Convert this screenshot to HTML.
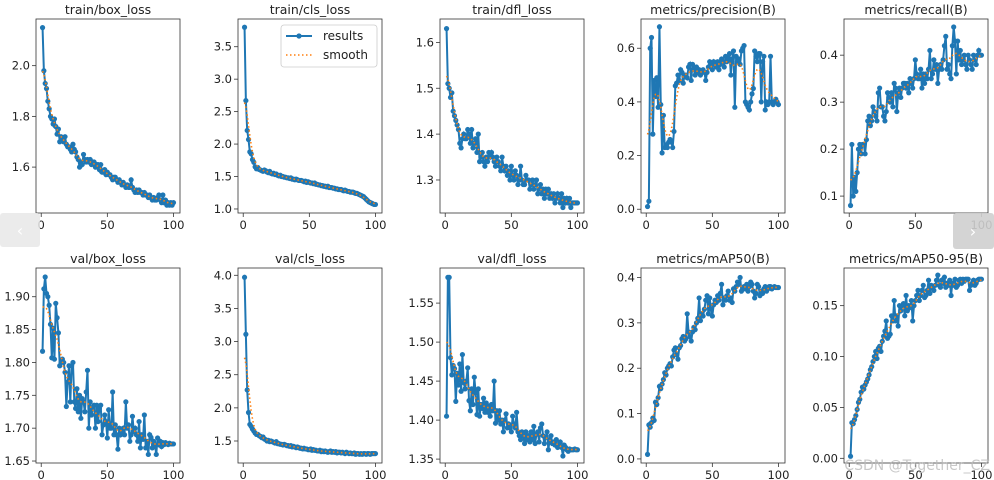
<!DOCTYPE html>
<html><head><meta charset="utf-8"><style>
html,body{margin:0;padding:0;background:#fff;width:994px;height:480px;overflow:hidden}
svg{display:block;font-family:"DejaVu Sans","Liberation Sans",sans-serif}
</style></head><body>
<svg id="chart" width="994" height="480" viewBox="0 0 994 480"></svg>
<script>
const epochs = Array.from({length:100},(_,i)=>i+1);
const xTicks = [0,50,100];
const titles = ["train/box_loss","train/cls_loss","train/dfl_loss","metrics/precision(B)","metrics/recall(B)","val/box_loss","val/cls_loss","val/dfl_loss","metrics/mAP50(B)","metrics/mAP50-95(B)"];
const trainBox = [2.15,1.98,1.93,1.91,1.86,1.83,1.80,1.79,1.77,1.79,1.76,1.73,1.75,1.70,1.72,1.71,1.70,1.72,1.69,1.68,1.68,1.67,1.66,1.69,1.67,1.66,1.64,1.63,1.60,1.62,1.61,1.65,1.63,1.62,1.63,1.62,1.63,1.61,1.62,1.62,1.60,1.61,1.61,1.59,1.61,1.58,1.58,1.59,1.57,1.58,1.57,1.57,1.56,1.55,1.56,1.56,1.55,1.54,1.55,1.54,1.53,1.54,1.53,1.52,1.53,1.52,1.52,1.55,1.52,1.51,1.50,1.51,1.50,1.51,1.50,1.50,1.49,1.50,1.49,1.49,1.48,1.49,1.48,1.47,1.48,1.47,1.47,1.48,1.49,1.47,1.46,1.49,1.46,1.47,1.45,1.46,1.45,1.46,1.45,1.46];
const trainCls = [3.80,2.67,2.21,2.07,1.88,1.85,1.76,1.72,1.65,1.62,1.64,1.61,1.60,1.59,1.58,1.60,1.59,1.57,1.56,1.58,1.55,1.54,1.55,1.53,1.54,1.52,1.51,1.52,1.50,1.50,1.49,1.49,1.48,1.48,1.47,1.48,1.46,1.46,1.45,1.46,1.45,1.44,1.44,1.44,1.43,1.42,1.43,1.41,1.42,1.41,1.40,1.40,1.39,1.40,1.38,1.38,1.37,1.37,1.36,1.36,1.35,1.35,1.34,1.35,1.33,1.33,1.33,1.32,1.32,1.31,1.31,1.30,1.30,1.30,1.29,1.28,1.29,1.28,1.27,1.27,1.26,1.26,1.26,1.25,1.24,1.24,1.23,1.22,1.21,1.20,1.19,1.17,1.15,1.13,1.11,1.10,1.09,1.08,1.07,1.07];
const trainDfl = [1.63,1.51,1.50,1.48,1.49,1.45,1.44,1.43,1.42,1.41,1.38,1.37,1.39,1.40,1.39,1.39,1.41,1.40,1.38,1.41,1.37,1.38,1.39,1.36,1.40,1.34,1.35,1.36,1.34,1.33,1.35,1.34,1.36,1.35,1.36,1.35,1.34,1.33,1.35,1.34,1.33,1.32,1.35,1.33,1.32,1.33,1.31,1.32,1.30,1.33,1.31,1.30,1.32,1.31,1.29,1.30,1.33,1.30,1.29,1.29,1.31,1.30,1.30,1.28,1.29,1.30,1.28,1.29,1.30,1.27,1.28,1.29,1.27,1.28,1.26,1.28,1.27,1.28,1.26,1.27,1.26,1.27,1.25,1.26,1.27,1.26,1.25,1.27,1.24,1.26,1.25,1.26,1.25,1.26,1.24,1.25,1.25,1.25,1.25,1.25];
const precision = [0.01,0.03,0.60,0.64,0.28,0.48,0.42,0.49,0.38,0.68,0.39,0.21,0.35,0.23,0.24,0.23,0.25,0.26,0.25,0.23,0.29,0.46,0.47,0.50,0.48,0.52,0.51,0.47,0.50,0.50,0.49,0.53,0.54,0.48,0.54,0.52,0.50,0.53,0.51,0.52,0.50,0.51,0.52,0.51,0.48,0.51,0.53,0.55,0.54,0.52,0.55,0.54,0.53,0.55,0.52,0.54,0.56,0.55,0.53,0.57,0.55,0.56,0.58,0.50,0.56,0.59,0.38,0.57,0.55,0.56,0.54,0.59,0.60,0.61,0.40,0.39,0.38,0.37,0.40,0.43,0.45,0.59,0.57,0.55,0.58,0.58,0.40,0.55,0.57,0.37,0.40,0.39,0.40,0.57,0.40,0.39,0.40,0.41,0.40,0.39];
const recall = [0.08,0.21,0.10,0.14,0.11,0.15,0.20,0.21,0.19,0.21,0.21,0.19,0.22,0.26,0.27,0.25,0.26,0.29,0.28,0.27,0.26,0.32,0.33,0.29,0.29,0.27,0.26,0.28,0.32,0.31,0.30,0.32,0.29,0.34,0.33,0.28,0.32,0.33,0.31,0.33,0.34,0.34,0.33,0.34,0.32,0.35,0.34,0.33,0.35,0.39,0.36,0.35,0.35,0.37,0.33,0.36,0.34,0.36,0.35,0.37,0.41,0.35,0.36,0.39,0.37,0.38,0.34,0.37,0.38,0.37,0.39,0.42,0.44,0.37,0.38,0.36,0.35,0.42,0.46,0.43,0.36,0.43,0.39,0.41,0.38,0.39,0.40,0.38,0.37,0.40,0.39,0.38,0.37,0.40,0.39,0.38,0.40,0.41,0.40,0.40];
const valBox = [1.817,1.912,1.930,1.905,1.900,1.887,1.858,1.807,1.852,1.805,1.890,1.868,1.845,1.795,1.800,1.805,1.800,1.785,1.733,1.770,1.795,1.740,1.795,1.800,1.740,1.730,1.760,1.725,1.750,1.715,1.745,1.740,1.725,1.755,1.788,1.700,1.740,1.720,1.730,1.735,1.700,1.735,1.710,1.730,1.735,1.690,1.705,1.720,1.710,1.685,1.728,1.700,1.700,1.755,1.690,1.705,1.690,1.668,1.700,1.690,1.695,1.700,1.690,1.740,1.700,1.705,1.680,1.690,1.718,1.695,1.700,1.690,1.680,1.710,1.670,1.690,1.683,1.720,1.670,1.680,1.660,1.690,1.686,1.670,1.680,1.675,1.660,1.685,1.675,1.680,1.672,1.678,1.675,1.678,1.676,1.675,1.677,1.676,1.676,1.676];
const valCls = [3.97,3.11,2.27,1.93,1.75,1.72,1.68,1.65,1.62,1.60,1.60,1.58,1.57,1.55,1.56,1.53,1.52,1.50,1.51,1.49,1.50,1.49,1.48,1.47,1.49,1.46,1.46,1.45,1.45,1.44,1.45,1.44,1.43,1.43,1.42,1.43,1.41,1.42,1.41,1.40,1.41,1.40,1.39,1.39,1.38,1.39,1.38,1.38,1.37,1.37,1.38,1.36,1.37,1.36,1.36,1.35,1.35,1.36,1.34,1.35,1.34,1.35,1.34,1.33,1.34,1.35,1.33,1.34,1.33,1.34,1.32,1.33,1.33,1.32,1.33,1.32,1.31,1.33,1.32,1.31,1.32,1.31,1.31,1.32,1.30,1.31,1.31,1.30,1.31,1.30,1.31,1.31,1.30,1.31,1.31,1.30,1.31,1.31,1.31,1.31];
const valDfl = [1.405,1.583,1.583,1.480,1.458,1.470,1.466,1.424,1.460,1.445,1.472,1.437,1.484,1.448,1.440,1.450,1.467,1.425,1.412,1.440,1.420,1.455,1.435,1.407,1.440,1.405,1.420,1.415,1.428,1.410,1.422,1.410,1.418,1.405,1.420,1.412,1.450,1.396,1.412,1.400,1.412,1.395,1.400,1.385,1.400,1.408,1.390,1.395,1.390,1.385,1.405,1.395,1.390,1.410,1.385,1.380,1.375,1.385,1.380,1.370,1.385,1.375,1.380,1.372,1.385,1.375,1.392,1.370,1.382,1.385,1.372,1.390,1.395,1.380,1.370,1.378,1.385,1.362,1.375,1.380,1.370,1.372,1.368,1.375,1.365,1.368,1.372,1.365,1.354,1.368,1.365,1.362,1.360,1.363,1.362,1.362,1.362,1.363,1.362,1.362];
const mAP50 = [0.01,0.075,0.07,0.08,0.09,0.085,0.125,0.12,0.135,0.16,0.155,0.165,0.175,0.19,0.185,0.20,0.205,0.21,0.205,0.225,0.24,0.245,0.23,0.22,0.245,0.25,0.265,0.27,0.26,0.265,0.32,0.28,0.27,0.26,0.28,0.29,0.285,0.30,0.31,0.355,0.305,0.32,0.315,0.33,0.35,0.36,0.32,0.355,0.33,0.315,0.34,0.35,0.345,0.36,0.35,0.365,0.385,0.34,0.355,0.35,0.36,0.37,0.35,0.355,0.345,0.375,0.37,0.38,0.39,0.385,0.40,0.37,0.375,0.38,0.375,0.385,0.37,0.38,0.39,0.385,0.37,0.355,0.365,0.385,0.38,0.36,0.37,0.365,0.375,0.38,0.37,0.375,0.38,0.38,0.375,0.378,0.38,0.378,0.378,0.378];
const mAP5095 = [0.002,0.035,0.034,0.038,0.042,0.048,0.055,0.058,0.065,0.07,0.068,0.072,0.075,0.078,0.082,0.087,0.09,0.095,0.10,0.105,0.098,0.108,0.11,0.105,0.115,0.12,0.125,0.135,0.118,0.12,0.122,0.14,0.135,0.155,0.135,0.14,0.13,0.15,0.145,0.15,0.152,0.14,0.16,0.145,0.15,0.148,0.155,0.135,0.15,0.155,0.16,0.165,0.155,0.16,0.165,0.17,0.158,0.16,0.165,0.175,0.162,0.17,0.168,0.165,0.17,0.175,0.18,0.17,0.168,0.175,0.172,0.178,0.168,0.172,0.17,0.175,0.16,0.172,0.17,0.176,0.168,0.17,0.175,0.176,0.172,0.176,0.174,0.176,0.176,0.176,0.165,0.17,0.172,0.175,0.17,0.172,0.175,0.176,0.176,0.176];
const yTicks = [[1.6,1.8,2.0],[1.0,1.5,2.0,2.5,3.0,3.5],[1.3,1.4,1.5,1.6],[0.0,0.2,0.4,0.6],[0.1,0.2,0.3,0.4],[1.65,1.70,1.75,1.80,1.85,1.90],[1.5,2.0,2.5,3.0,3.5,4.0],[1.35,1.40,1.45,1.50,1.55],[0.0,0.1,0.2,0.3,0.4],[0.00,0.05,0.10,0.15]];
const yDecimals = [1,1,1,1,1,2,1,2,1,2];
const yDomains = [[1.419,2.184],[0.938,3.927],[1.228,1.651],[-0.014,0.709],[0.064,0.477],[1.647,1.9437],[1.168,4.11],[1.345,1.595],[-0.009,0.421],[-0.0046,0.187]];
const series = [trainBox,trainCls,trainDfl,precision,recall,valBox,valCls,valDfl,mAP50,mAP5095];

const NS="http://www.w3.org/2000/svg";
const svg=document.getElementById('chart');
function mk(tag,attrs,parent){const e=document.createElementNS(NS,tag);for(const k in attrs)e.setAttribute(k,attrs[k]);(parent||svg).appendChild(e);return e;}
function smooth(y,sigma){const r=Math.ceil(sigma*4),n=y.length,out=[];for(let i=0;i<n;i++){let s=0,w=0;for(let k=-r;k<=r;k++){let j=i+k;if(j<0)j=-j-1;if(j>=n)j=2*n-j-1;j=Math.max(0,Math.min(n-1,j));const g=Math.exp(-k*k/(2*sigma*sigma));s+=g*y[j];w+=g;}out.push(s/w);}return out;}
const lefts=[36,238,440,641,844], W=144, tops=[19,268], H=[194,195];
series.forEach((ys,p)=>{
  const col=p%5,row=Math.floor(p/5);
  const L=lefts[col],T=tops[row],h=H[row];
  const [y0,y1]=yDomains[p];
  const sx=v=>L+(v+3.95)/(108.9)*W;
  const sy=v=>T+h-(v-y0)/(y1-y0)*h;
  const g=mk('g',{});
  
  
  const t=mk('text',{x:L+W/2,y:T-5,'text-anchor':'middle','font-size':'12.5',fill:'#222'},g);t.textContent=titles[p];
  
  xTicks.forEach(v=>{const x=sx(v);mk('line',{x1:x,x2:x,y1:T+h,y2:T+h+4,stroke:'#333','stroke-width':0.8},g);
    const tx=mk('text',{x:x,y:T+h+16,'text-anchor':'middle','font-size':'11.5',fill:'#222'},g);tx.textContent=v;
    });
  yTicks[p].forEach(v=>{const y=sy(v);mk('line',{x1:L-4,x2:L,y1:y,y2:y,stroke:'#333','stroke-width':0.8},g);
    const ty=mk('text',{x:L-6,y:y+4,'text-anchor':'end','font-size':'11.5',fill:'#222'},g);ty.textContent=v.toFixed(yDecimals[p]);
    });
  const pts=ys.map((v,i)=>sx(epochs[i]).toFixed(2)+','+sy(v).toFixed(2)).join(' ');
  const line=mk('polyline',{points:pts,fill:'none',stroke:'#1f77b4','stroke-width':2},g);
  
  ys.forEach((v,i)=>{const c=mk('circle',{cx:sx(epochs[i]),cy:sy(v),r:2.6,fill:'#1f77b4'},g);
    });
  const sm=smooth(ys,3);
  const sl=mk('polyline',{points:sm.map((v,i)=>sx(epochs[i]).toFixed(2)+','+sy(v).toFixed(2)).join(' '),fill:'none',stroke:'#ff7f0e','stroke-width':1.6,'stroke-dasharray':'1.5 2.5'},g);
  
  const fr=mk('rect',{x:L,y:T,width:W,height:h,fill:'none',stroke:'#333','stroke-width':0.8},g);
  
});
// legend in panel 2
const lg=mk('g',{});


mk('rect',{x:281,y:25,width:96,height:42,rx:3,fill:'#fff',stroke:'#ccc','stroke-width':0.8},lg);
mk('line',{x1:286,x2:312,y1:36,y2:36,stroke:'#1f77b4','stroke-width':2},lg);
mk('circle',{cx:299,cy:36,r:2.6,fill:'#1f77b4'},lg);
const l1=mk('text',{x:323,y:40,'font-size':'12',fill:'#222'},lg);l1.textContent='results';


mk('line',{x1:286,x2:312,y1:55,y2:55,stroke:'#ff7f0e','stroke-width':1.6,'stroke-dasharray':'1.5 2.5'},lg);
const l2=mk('text',{x:323,y:59,'font-size':'12',fill:'#222'},lg);l2.textContent='smooth';


// nav buttons & watermark
const nb1=mk('rect',{x:0,y:213,width:40,height:34,rx:3,fill:'#e8e8e8',opacity:0.85});


const nt1=mk('text',{x:20,y:236,'text-anchor':'middle','font-size':'16',fill:'#fff'});nt1.textContent='‹';
const nb2=mk('rect',{x:953,y:213,width:41,height:36,rx:3,fill:'#cfcfcf',opacity:0.9});


const nt2=mk('text',{x:973,y:237,'text-anchor':'middle','font-size':'16',fill:'#fff'});nt2.textContent='›';
const wm=mk('text',{x:990,y:470,'text-anchor':'end','font-size':'14',fill:'#bbb',opacity:0.8});wm.textContent='CSDN @Together_CZ';


</script>
</body></html>
